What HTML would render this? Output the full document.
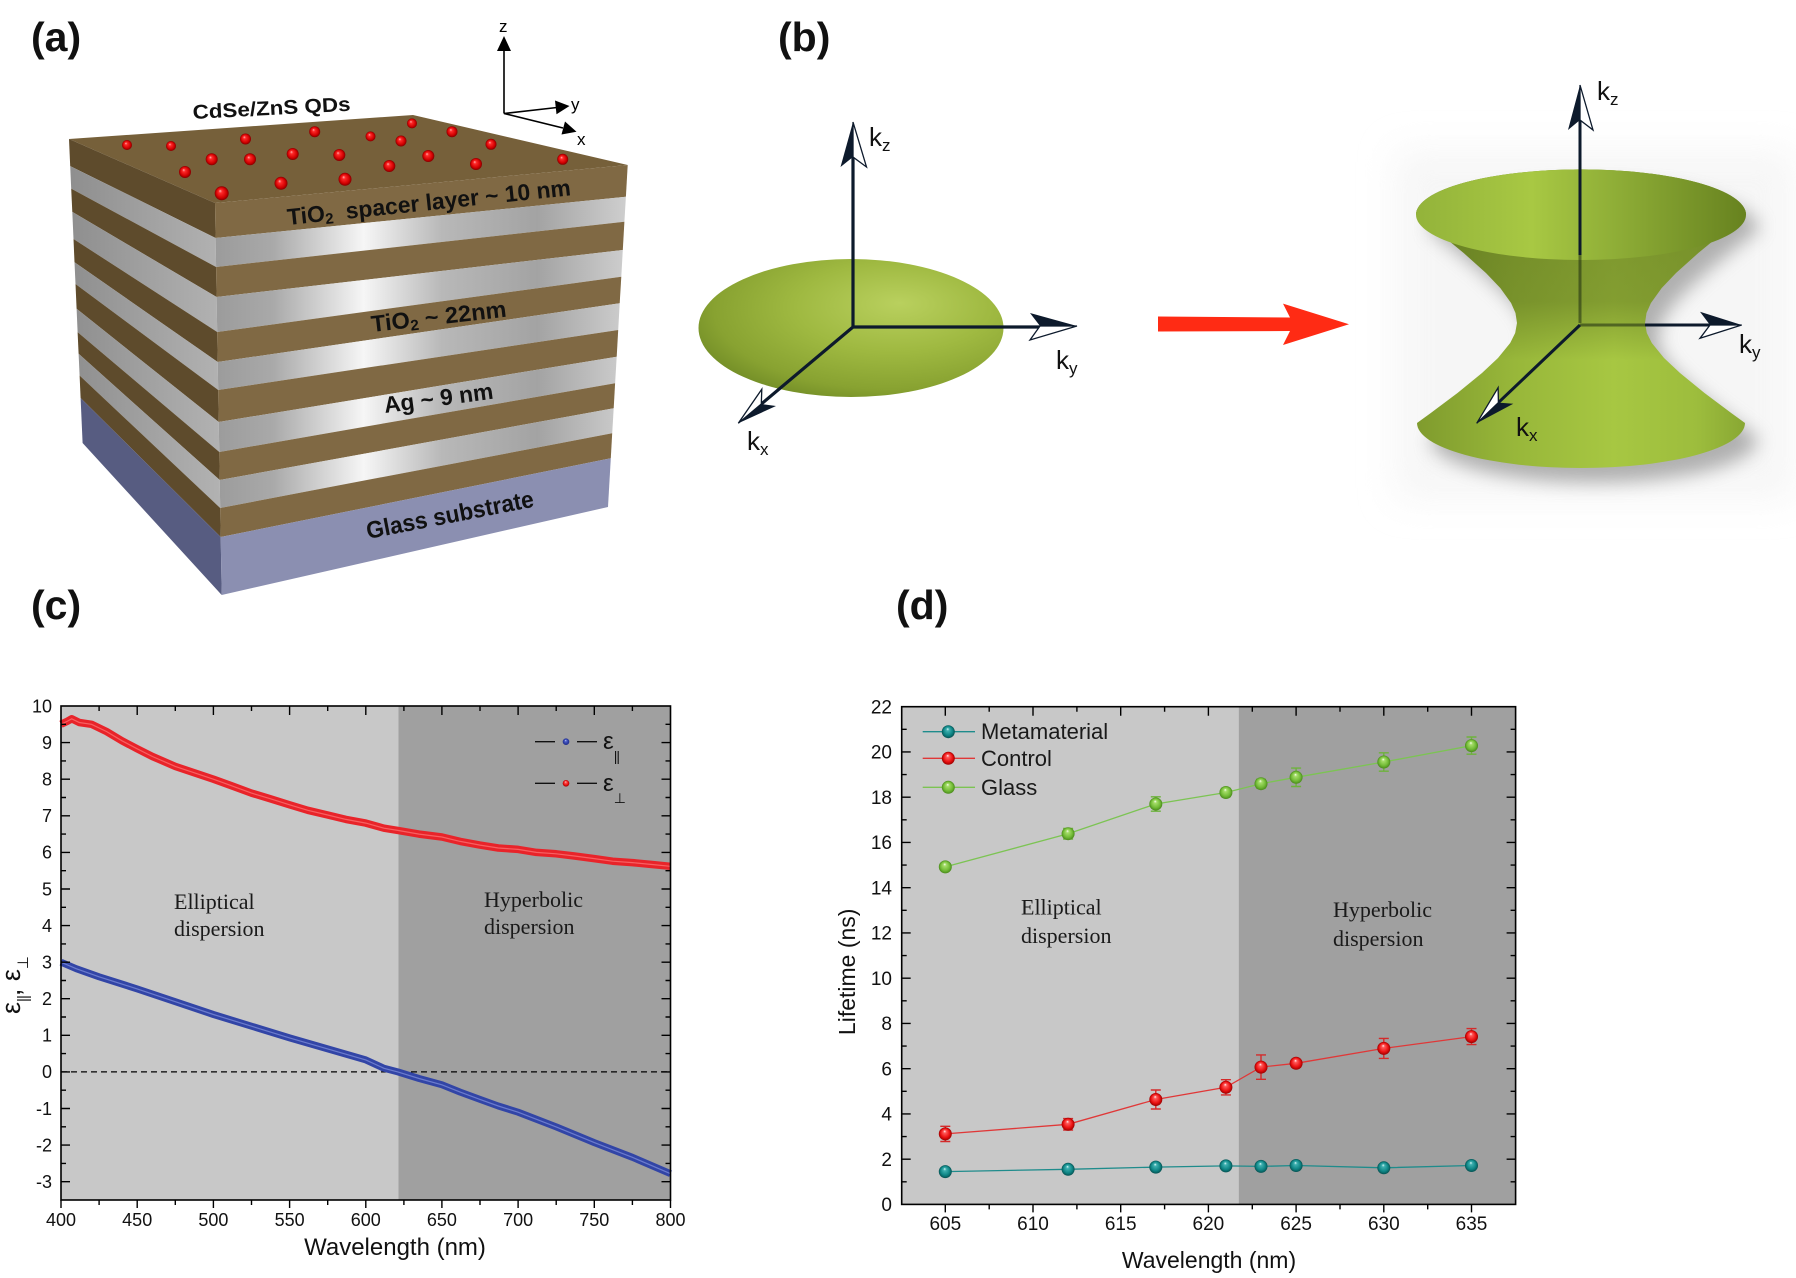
<!DOCTYPE html>
<html><head><meta charset="utf-8"><style>
html,body{margin:0;padding:0;background:#fff;}
body{width:1796px;height:1278px;overflow:hidden;}
svg{display:block;}
text{font-family:"Liberation Sans",Arial,sans-serif;}
.serif{font-family:"Liberation Serif","Times New Roman",serif;}
</style></head><body>
<svg width="1796" height="1278" viewBox="0 0 1796 1278" xmlns="http://www.w3.org/2000/svg">
<defs>
<linearGradient id="silver" gradientUnits="userSpaceOnUse" x1="215" y1="0" x2="628" y2="0">
<stop offset="0" stop-color="#9b9b9b"/><stop offset="0.14" stop-color="#a9a9a9"/><stop offset="0.36" stop-color="#f6f6f6"/><stop offset="0.55" stop-color="#b8b8b8"/><stop offset="0.78" stop-color="#a3a3a3"/><stop offset="1" stop-color="#cfcfcf"/>
</linearGradient>
<linearGradient id="silverSide" gradientUnits="userSpaceOnUse" x1="69" y1="0" x2="220" y2="0">
<stop offset="0" stop-color="#8e8e8e"/><stop offset="1" stop-color="#b2b2b2"/>
</linearGradient>
<radialGradient id="dot" cx="0.5" cy="0.5" r="0.5" fx="0.38" fy="0.32">
<stop offset="0" stop-color="#ffb8b8"/><stop offset="0.25" stop-color="#ff2a2a"/><stop offset="0.75" stop-color="#d00000"/><stop offset="1" stop-color="#800000"/>
</radialGradient>
<radialGradient id="ell" cx="0.62" cy="0.38" r="0.72" fx="0.66" fy="0.32">
<stop offset="0" stop-color="#b9d05e"/><stop offset="0.45" stop-color="#9fb941"/><stop offset="0.8" stop-color="#88a231"/><stop offset="1" stop-color="#6d8824"/>
</radialGradient>
<linearGradient id="hypBody" gradientUnits="userSpaceOnUse" x1="1416" y1="0" x2="1746" y2="0">
<stop offset="0" stop-color="#7f9b2d"/><stop offset="0.3" stop-color="#98b73a"/><stop offset="0.6" stop-color="#a7c742"/><stop offset="0.85" stop-color="#9dbd3d"/><stop offset="1" stop-color="#88a733"/>
</linearGradient>
<linearGradient id="hypDark" gradientUnits="userSpaceOnUse" x1="0" y1="214" x2="0" y2="360">
<stop offset="0" stop-color="#2f3d08" stop-opacity="0.35"/><stop offset="0.6" stop-color="#2f3d08" stop-opacity="0.3"/><stop offset="1" stop-color="#2f3d08" stop-opacity="0"/>
</linearGradient>
<linearGradient id="bowl" gradientUnits="userSpaceOnUse" x1="1416" y1="0" x2="1746" y2="0">
<stop offset="0" stop-color="#93b33a"/><stop offset="0.35" stop-color="#a8c843"/><stop offset="0.6" stop-color="#8fae37"/><stop offset="1" stop-color="#67821f"/>
</linearGradient>
<clipPath id="hypClip"><path id="hypPathC" d="M1416,214.7 L1439.4,233 L1463.7,253 L1486,273 L1500.3,288 L1511.1,303 L1515.5,313 L1517,323 L1515.2,333 L1510.2,343 L1498,358 L1482,373 L1457.5,393 L1430.8,413 L1417,423 A164,45 0 0 0 1745,423 L1731.2,413 L1704.5,393 L1680,373 L1664,358 L1651.8,343 L1646.8,333 L1645,323 L1646.5,313 L1650.9,303 L1661.7,288 L1676,273 L1698.3,253 L1722.6,233 L1746,214.7 A165,45.3 0 0 0 1416,214.7 Z"/></clipPath>
<filter id="blur8" x="-30%" y="-30%" width="160%" height="160%"><feGaussianBlur stdDeviation="9"/></filter>
<filter id="blur20" x="-30%" y="-30%" width="160%" height="160%"><feGaussianBlur stdDeviation="18"/></filter>
<radialGradient id="mT" cx="0.5" cy="0.5" r="0.5" fx="0.45" fy="0.28"><stop offset="0" stop-color="#e8ffff"/><stop offset="0.22" stop-color="#3fb0b0"/><stop offset="0.7" stop-color="#0e8585"/><stop offset="1" stop-color="#075252"/></radialGradient>
<radialGradient id="mR" cx="0.5" cy="0.5" r="0.5" fx="0.45" fy="0.28"><stop offset="0" stop-color="#ffffff"/><stop offset="0.22" stop-color="#ff5a5a"/><stop offset="0.7" stop-color="#ea1010"/><stop offset="1" stop-color="#9a0000"/></radialGradient>
<radialGradient id="mG" cx="0.5" cy="0.5" r="0.5" fx="0.45" fy="0.28"><stop offset="0" stop-color="#ffffff"/><stop offset="0.22" stop-color="#a6dd6a"/><stop offset="0.7" stop-color="#72bb36"/><stop offset="1" stop-color="#4a8a1c"/></radialGradient>
<radialGradient id="mB" cx="0.5" cy="0.5" r="0.5" fx="0.45" fy="0.3"><stop offset="0" stop-color="#dde4ff"/><stop offset="0.3" stop-color="#4a5cc8"/><stop offset="1" stop-color="#1c2a88"/></radialGradient>
</defs>

<!-- ================= (a) ================= -->
<text x="31" y="51" font-size="41" font-weight="bold" fill="#111">(a)</text>

<!-- top face -->
<polygon points="69,139 413,115 627.7,165 215,203" fill="#76603a"/>
<!-- side face bands -->
<g>
<polygon points="69,139 215,203 215.6,238 70.2,166.1" fill="#5e4b2c"/>
<polygon points="70.2,166.1 215.6,238 216.1,267 71.2,188.6" fill="url(#silverSide)"/>
<polygon points="71.2,188.6 216.1,267 216.6,297 72.3,211.9" fill="#5e4b2c"/>
<polygon points="72.3,211.9 216.6,297 217.2,332 73.5,239" fill="url(#silverSide)"/>
<polygon points="73.5,239 217.2,332 217.7,362 74.5,262.3" fill="#5e4b2c"/>
<polygon points="74.5,262.3 217.7,362 218.2,390 75.5,284" fill="url(#silverSide)"/>
<polygon points="75.5,284 218.2,390 218.7,422 76.6,308.8" fill="#5e4b2c"/>
<polygon points="76.6,308.8 218.7,422 219.3,452 77.6,332.1" fill="url(#silverSide)"/>
<polygon points="77.6,332.1 219.3,452 219.7,480 78.6,353.8" fill="#5e4b2c"/>
<polygon points="78.6,353.8 219.7,480 220.2,508 79.6,375.5" fill="url(#silverSide)"/>
<polygon points="79.6,375.5 220.2,508 220.7,537 80.6,398" fill="#5e4b2c"/>
<polygon points="80.6,398 220.7,537 221.7,595 82.6,443" fill="#575c81"/>
</g>
<!-- front face bands -->
<g>
<polygon points="215,203 627.7,165 625.9,196.7 215.6,238" fill="#806944"/>
<polygon points="215.6,238 625.9,196.7 624.4,221.7 216.1,267" fill="url(#silver)"/>
<polygon points="216.1,267 624.4,221.7 622.8,250 216.6,297" fill="#806944"/>
<polygon points="216.6,297 622.8,250 621.3,276.7 217.2,332" fill="url(#silver)"/>
<polygon points="217.2,332 621.3,276.7 619.7,303.3 217.7,362" fill="#806944"/>
<polygon points="217.7,362 619.7,303.3 618.2,330 218.2,390" fill="url(#silver)"/>
<polygon points="218.2,390 618.2,330 616.7,356.7 218.7,422" fill="#806944"/>
<polygon points="218.7,422 616.7,356.7 615.1,383.3 219.3,452" fill="url(#silver)"/>
<polygon points="219.3,452 615.1,383.3 613.7,408.3 219.7,480" fill="#806944"/>
<polygon points="219.7,480 613.7,408.3 612.2,433.3 220.2,508" fill="url(#silver)"/>
<polygon points="220.2,508 612.2,433.3 610.8,458.3 220.7,537" fill="#806944"/>
<polygon points="220.7,537 610.8,458.3 608,507 221.7,595" fill="#8b8fb1"/>
</g>
<!-- dots -->
<g fill="url(#dot)">
<circle cx="127" cy="145" r="5"/><circle cx="171" cy="146" r="5"/><circle cx="245.5" cy="139" r="5.5"/>
<circle cx="314.7" cy="131.7" r="5.5"/><circle cx="370.5" cy="136.4" r="5"/><circle cx="412" cy="123.4" r="5"/>
<circle cx="452" cy="131.7" r="5.5"/><circle cx="401" cy="141" r="5.5"/><circle cx="491" cy="144.3" r="5.5"/>
<circle cx="185" cy="172" r="6"/><circle cx="211.7" cy="159.3" r="6"/><circle cx="250" cy="159.3" r="6"/>
<circle cx="292.7" cy="154" r="6"/><circle cx="339.3" cy="155" r="6"/><circle cx="389.3" cy="166" r="6"/>
<circle cx="428.3" cy="156" r="6"/><circle cx="476" cy="164" r="6"/><circle cx="562.7" cy="159.3" r="5.5"/>
<circle cx="221.7" cy="193.3" r="7"/><circle cx="281" cy="183.3" r="6.5"/><circle cx="345" cy="179.3" r="6.5"/>
</g>
<!-- cube texts -->
<g font-weight="bold" fill="#111">
<text transform="translate(193,119) rotate(-3)" font-size="20" textLength="158" lengthAdjust="spacingAndGlyphs">CdSe/ZnS QDs</text>
<text transform="translate(288,225) rotate(-6)" font-size="23" textLength="285" lengthAdjust="spacingAndGlyphs">TiO<tspan font-size="15" dy="3">2</tspan><tspan dy="-3">&#160; spacer layer ~ 10 nm</tspan></text>
<text transform="translate(372,332) rotate(-6.5)" font-size="23" textLength="136" lengthAdjust="spacingAndGlyphs">TiO<tspan font-size="15" dy="3">2</tspan><tspan dy="-3"> ~ 22nm</tspan></text>
<text transform="translate(385,413) rotate(-7.5)" font-size="23" textLength="110" lengthAdjust="spacingAndGlyphs">Ag ~ 9 nm</text>
<text transform="translate(368,539) rotate(-11)" font-size="24" textLength="170" lengthAdjust="spacingAndGlyphs">Glass substrate</text>
</g>
<!-- xyz axes -->
<g stroke="#000" stroke-width="1.6" fill="none">
<path d="M504,113.5V49M504,113.5L557,107.5M504,113.5L563,128"/>
</g>
<g fill="#000">
<polygon points="504,36 497,51 511,51"/>
<polygon points="569.5,106 555,100.5 556.5,114.2"/>
<polygon points="576.5,131.7 561.5,134.5 565,121.5"/>
</g>
<g font-size="17" fill="#000">
<text x="499" y="32">z</text><text x="571" y="110">y</text><text x="577" y="145">x</text>
</g>

<!-- ================= (b) ================= -->
<text x="778" y="51" font-size="41" font-weight="bold" fill="#111">(b)</text>

<!-- ellipsoid -->
<ellipse cx="851" cy="328" rx="152.5" ry="69" fill="url(#ell)"/>
<path d="M853,327V157M853,327H1040M853,327L761.3,404" stroke="#0d1a2c" stroke-width="3.2" fill="none"/>
<polygon points="853,122 840.5,167 853,157" fill="#0d1a2c"/>
<polygon points="853,122 866.5,167 853,157" fill="#fff" stroke="#0d1a2c" stroke-width="1.3"/>
<polygon points="1077,326 1030,313 1040,326" fill="#0d1a2c"/>
<polygon points="1077,326 1030,340 1040,326" fill="#fff" stroke="#0d1a2c" stroke-width="1.3"/>
<polygon points="738.3,423.3 776,406 761.3,404" fill="#0d1a2c"/>
<polygon points="738.3,423.3 761.8,389.2 761.3,404" fill="#fff" stroke="#0d1a2c" stroke-width="1.3"/>
<g font-size="26" fill="#111">
<text x="869" y="146">k<tspan font-size="17" dy="5">z</tspan></text>
<text x="1056" y="369">k<tspan font-size="17" dy="5">y</tspan></text>
<text x="747" y="450">k<tspan font-size="17" dy="5">x</tspan></text>
</g>

<!-- red arrow -->
<polygon points="1158,316.5 1290,317.5 1283,303.6 1349,324.3 1283,345 1290,331 1158,331.5" fill="#ff2b14"/>

<!-- hyperboloid -->
<rect x="1395" y="150" width="400" height="350" fill="#f3f3f3" opacity="0.7" filter="url(#blur20)"/>
<path d="M1416,214.7 L1439.4,233 L1463.7,253 L1486,273 L1500.3,288 L1511.1,303 L1515.5,313 L1517,323 L1515.2,333 L1510.2,343 L1498,358 L1482,373 L1457.5,393 L1430.8,413 L1417,423 A164,45 0 0 0 1745,423 L1731.2,413 L1704.5,393 L1680,373 L1664,358 L1651.8,343 L1646.8,333 L1645,323 L1646.5,313 L1650.9,303 L1661.7,288 L1676,273 L1698.3,253 L1722.6,233 L1746,214.7 A165,45.3 0 0 0 1416,214.7 Z" transform="translate(13,15)" fill="#8a8a8a" opacity="0.65" filter="url(#blur8)"/>
<g clip-path="url(#hypClip)">
<rect x="1410" y="160" width="345" height="320" fill="url(#hypBody)"/>
<rect x="1410" y="160" width="345" height="200" fill="url(#hypDark)"/>
</g>
<ellipse cx="1581" cy="214.7" rx="165" ry="45.3" fill="url(#bowl)"/>
<path d="M1580,323V255M1580,325H1645" stroke="#1b2a10" stroke-width="3" opacity="0.55" fill="none"/>
<path d="M1580,255V119M1645,325H1710M1580,325L1498.4,402.6" stroke="#0d1a2c" stroke-width="3" fill="none"/>
<polygon points="1580,85 1568,130 1580,120" fill="#0d1a2c"/>
<polygon points="1580,85 1593,130 1580,120" fill="#fff" stroke="#0d1a2c" stroke-width="1.3"/>
<polygon points="1741.7,325 1700,311.7 1710,325" fill="#0d1a2c"/>
<polygon points="1741.7,325 1700,338.3 1710,325" fill="#fff" stroke="#0d1a2c" stroke-width="1.3"/>
<polygon points="1476.7,423.3 1513.3,403.7 1498.4,402.6" fill="#0d1a2c"/>
<polygon points="1476.7,423.3 1498.1,387.7 1498.4,402.6" fill="#fff" stroke="#0d1a2c" stroke-width="1.3"/>
<g font-size="26" fill="#111">
<text x="1597" y="100">k<tspan font-size="17" dy="5">z</tspan></text>
<text x="1739" y="353">k<tspan font-size="17" dy="5">y</tspan></text>
<text x="1516" y="436">k<tspan font-size="17" dy="5">x</tspan></text>
</g>

<!-- ================= (c) ================= -->
<text x="31" y="619" font-size="41" font-weight="bold" fill="#111">(c)</text>
<rect x="61" y="706" width="337.5" height="494" fill="#c8c8c8"/>
<rect x="398.5" y="706" width="272" height="494" fill="#a0a0a0"/>
<path d="M61,1071.9H670.5" stroke="#000" stroke-width="1.3" stroke-dasharray="6,4" fill="none"/>
<text class="serif" font-size="22" fill="#1a1a1a"><tspan x="174" y="909">Elliptical</tspan><tspan x="174" y="936">dispersion</tspan></text>
<text class="serif" font-size="22" fill="#1a1a1a"><tspan x="484" y="907">Hyperbolic</tspan><tspan x="484" y="934">dispersion</tspan></text>
<!-- red curve -->
<polyline fill="none" stroke="#e8242a" stroke-width="7.5" stroke-linejoin="round" points="61,724.3 67.1,721.4 71.7,718.8 79.3,722.5 91.5,724.3 106.7,731.6 122,740.8 137.2,748.8 152.4,756.5 175.3,766.4 193.6,772.6 213.4,779.2 231.7,785.8 251.5,793.1 269.8,798.6 289.6,804.8 307.8,810.3 327.7,815 345.9,819.4 365.8,823.1 384,828.2 397.8,830.4 419.1,834.1 441.9,837 460.2,841.4 480,845.1 498.3,848 518.1,849.4 536.4,852.4 556.2,853.8 574.5,856 594.3,858.6 612.6,861.2 632.4,862.6 650.7,864.4 670.5,866.3"/>
<polyline fill="none" stroke="#ff7a7a" stroke-width="1.2" opacity="0.7" points="61,724.3 67.1,721.4 71.7,718.8 79.3,722.5 91.5,724.3 106.7,731.6 122,740.8 137.2,748.8 152.4,756.5 175.3,766.4 193.6,772.6 213.4,779.2 231.7,785.8 251.5,793.1 269.8,798.6 289.6,804.8 307.8,810.3 327.7,815 345.9,819.4 365.8,823.1 384,828.2 397.8,830.4 419.1,834.1 441.9,837 460.2,841.4 480,845.1 498.3,848 518.1,849.4 536.4,852.4 556.2,853.8 574.5,856 594.3,858.6 612.6,861.2 632.4,862.6 650.7,864.4 670.5,866.3"/>
<!-- blue curve -->
<polyline fill="none" stroke="#3245a6" stroke-width="7" stroke-linejoin="round" points="61,962.2 76.2,968.7 99.1,976.8 137.2,988.9 175.3,1001.7 213.4,1014.5 251.5,1026.2 289.6,1037.9 327.7,1048.9 365.8,1059.9 384,1068.3 397.8,1071.9 419.1,1078.5 441.9,1084.8 460.2,1092.1 480,1099.4 498.3,1106 518.1,1112.2 556.2,1126.9 594.3,1142.6 632.4,1157.3 670.5,1173.7"/>
<polyline fill="none" stroke="#8494e0" stroke-width="1.2" opacity="0.7" points="61,962.2 76.2,968.7 99.1,976.8 137.2,988.9 175.3,1001.7 213.4,1014.5 251.5,1026.2 289.6,1037.9 327.7,1048.9 365.8,1059.9 384,1068.3 397.8,1071.9 419.1,1078.5 441.9,1084.8 460.2,1092.1 480,1099.4 498.3,1106 518.1,1112.2 556.2,1126.9 594.3,1142.6 632.4,1157.3 670.5,1173.7"/>
<!-- legend c -->
<path d="M535,741.7h20M577,741.7h20M535,783.3h20M577,783.3h20" stroke="#111" stroke-width="1.3"/>
<circle cx="566" cy="741.7" r="3.3" fill="url(#mB)"/>
<circle cx="566" cy="783.3" r="3.3" fill="url(#mR)"/>
<text x="603" y="749" font-size="24" fill="#111">ε<tspan font-size="14" dy="12" letter-spacing="-1">||</tspan></text>
<text x="603" y="791" font-size="24" fill="#111">ε<tspan font-size="14" dy="12">⊥</tspan></text>
<!-- frame & ticks c -->
<rect x="61" y="706" width="609.5" height="494" fill="none" stroke="#000" stroke-width="1.6"/>
<path stroke="#000" stroke-width="1.4" fill="none" d="M61,742.6h9M61,779.2h9M61,815.8h9M61,852.4h9M61,889h9M61,925.6h9M61,962.2h9M61,998.7h9M61,1035.3h9M61,1071.9h9M61,1108.5h9M61,1145.1h9M61,1181.7h9
M61,724.3h5M61,760.9h5M61,797.5h5M61,834.1h5M61,870.7h5M61,907.3h5M61,943.9h5M61,980.5h5M61,1017h5M61,1053.6h5M61,1090.2h5M61,1126.8h5M61,1163.4h5
M670.5,742.6h-9M670.5,779.2h-9M670.5,815.8h-9M670.5,852.4h-9M670.5,889h-9M670.5,925.6h-9M670.5,962.2h-9M670.5,998.7h-9M670.5,1035.3h-9M670.5,1071.9h-9M670.5,1108.5h-9M670.5,1145.1h-9M670.5,1181.7h-9
M670.5,724.3h-5M670.5,760.9h-5M670.5,797.5h-5M670.5,834.1h-5M670.5,870.7h-5M670.5,907.3h-5M670.5,943.9h-5M670.5,980.5h-5M670.5,1017h-5M670.5,1053.6h-5M670.5,1090.2h-5M670.5,1126.8h-5M670.5,1163.4h-5
M137.2,706v9M213.4,706v9M289.6,706v9M365.8,706v9M441.9,706v9M518.1,706v9M594.3,706v9
M99.1,706v5M175.3,706v5M251.5,706v5M327.7,706v5M403.9,706v5M480,706v5M556.2,706v5M632.4,706v5
M61,1200v8M137.2,1200v8M213.4,1200v8M289.6,1200v8M365.8,1200v8M441.9,1200v8M518.1,1200v8M594.3,1200v8M670.5,1200v8
M99.1,1200v5M175.3,1200v5M251.5,1200v5M327.7,1200v5M403.9,1200v5M480,1200v5M556.2,1200v5M632.4,1200v5"/>
<g font-size="18" fill="#111" text-anchor="end">
<text x="52" y="712.3">10</text><text x="52" y="748.9">9</text><text x="52" y="785.5">8</text><text x="52" y="822.1">7</text>
<text x="52" y="858.7">6</text><text x="52" y="895.3">5</text><text x="52" y="931.9">4</text><text x="52" y="968.5">3</text>
<text x="52" y="1005">2</text><text x="52" y="1041.6">1</text><text x="52" y="1078.2">0</text><text x="52" y="1114.8">-1</text>
<text x="52" y="1151.4">-2</text><text x="52" y="1188">-3</text>
</g>
<g font-size="18" fill="#111" text-anchor="middle">
<text x="61" y="1226">400</text><text x="137.2" y="1226">450</text><text x="213.4" y="1226">500</text><text x="289.6" y="1226">550</text>
<text x="365.8" y="1226">600</text><text x="441.9" y="1226">650</text><text x="518.1" y="1226">700</text><text x="594.3" y="1226">750</text>
<text x="670.5" y="1226">800</text>
</g>
<text x="395" y="1255" font-size="24" fill="#111" text-anchor="middle">Wavelength (nm)</text>
<text transform="translate(20,985) rotate(-90)" font-size="27" fill="#111" text-anchor="middle">ε<tspan font-size="15" dy="8" letter-spacing="-1">||</tspan><tspan dy="-8">, ε</tspan><tspan font-size="15" dy="8">⊥</tspan></text>

<!-- ================= (d) ================= -->
<text x="896" y="619" font-size="41" font-weight="bold" fill="#111">(d)</text>
<rect x="901.7" y="706.7" width="337" height="497.7" fill="#c8c8c8"/>
<rect x="1238.7" y="706.7" width="276.9" height="497.7" fill="#a0a0a0"/>
<text class="serif" font-size="22" fill="#1a1a1a"><tspan x="1021" y="914.5">Elliptical</tspan><tspan x="1021" y="943">dispersion</tspan></text>
<text class="serif" font-size="22" fill="#1a1a1a"><tspan x="1333" y="917">Hyperbolic</tspan><tspan x="1333" y="946">dispersion</tspan></text>
<!-- series lines -->
<polyline fill="none" stroke="#1f8c8c" stroke-width="1.3" points="945.3,1171.6 1068.1,1169.3 1155.8,1167.1 1225.9,1165.9 1261,1166.4 1296.1,1165.5 1383.8,1167.8 1471.5,1165.5"/>
<polyline fill="none" stroke="#e03838" stroke-width="1.3" points="945.3,1133.9 1068.1,1124.3 1155.8,1099.5 1225.9,1087.3 1261,1067.1 1296.1,1063.3 1383.8,1048.4 1471.5,1036.6"/>
<polyline fill="none" stroke="#7cc453" stroke-width="1.3" points="945.3,866.9 1068.1,833.7 1155.8,804 1225.9,792.5 1261,783.7 1296.1,777.3 1383.8,762 1471.5,745.6"/>
<!-- error bars -->
<path fill="none" stroke="#d42a2a" stroke-width="1.4" d="M945.3,1126.3V1141.5M940.3,1126.3h10M940.3,1141.5h10M1068.1,1118.6V1130M1063.1,1118.6h10M1063.1,1130h10M1155.8,1090V1109M1150.8,1090h10M1150.8,1109h10M1225.9,1079.7V1094.9M1220.9,1079.7h10M1220.9,1094.9h10M1261,1054.9V1079.3M1256,1054.9h10M1256,1079.3h10M1296.1,1059.5V1067.1M1291.1,1059.5h10M1291.1,1067.1h10M1383.8,1038.4V1058.4M1378.8,1038.4h10M1378.8,1058.4h10M1471.5,1028.6V1044.6M1466.5,1028.6h10M1466.5,1044.6h10"/>
<path fill="none" stroke="#6db23c" stroke-width="1.4" d="M945.3,863.9V869.9M940.3,863.9h10M940.3,869.9h10M1068.1,828.4V839M1063.1,828.4h10M1063.1,839h10M1155.8,796.8V811.2M1150.8,796.8h10M1150.8,811.2h10M1225.9,788.5V796.5M1220.9,788.5h10M1220.9,796.5h10M1261,779.3V788.1M1256,779.3h10M1256,788.1h10M1296.1,768.1V786.5M1291.1,768.1h10M1291.1,786.5h10M1383.8,752.8V771.2M1378.8,752.8h10M1378.8,771.2h10M1471.5,737V754.2M1466.5,737h10M1466.5,754.2h10"/>
<!-- markers -->
<g fill="url(#mT)">
<circle cx="945.3" cy="1171.6" r="6.5"/><circle cx="1068.1" cy="1169.3" r="6.5"/><circle cx="1155.8" cy="1167.1" r="6.5"/><circle cx="1225.9" cy="1165.9" r="6.5"/>
<circle cx="1261" cy="1166.4" r="6.5"/><circle cx="1296.1" cy="1165.5" r="6.5"/><circle cx="1383.8" cy="1167.8" r="6.5"/><circle cx="1471.5" cy="1165.5" r="6.5"/>
</g>
<g fill="url(#mR)">
<circle cx="945.3" cy="1133.9" r="6.5"/><circle cx="1068.1" cy="1124.3" r="6.5"/><circle cx="1155.8" cy="1099.5" r="6.5"/><circle cx="1225.9" cy="1087.3" r="6.5"/>
<circle cx="1261" cy="1067.1" r="6.5"/><circle cx="1296.1" cy="1063.3" r="6.5"/><circle cx="1383.8" cy="1048.4" r="6.5"/><circle cx="1471.5" cy="1036.6" r="6.5"/>
</g>
<g fill="url(#mG)">
<circle cx="945.3" cy="866.9" r="6.5"/><circle cx="1068.1" cy="833.7" r="6.5"/><circle cx="1155.8" cy="804" r="6.5"/><circle cx="1225.9" cy="792.5" r="6.5"/>
<circle cx="1261" cy="783.7" r="6.5"/><circle cx="1296.1" cy="777.3" r="6.5"/><circle cx="1383.8" cy="762" r="6.5"/><circle cx="1471.5" cy="745.6" r="6.5"/>
</g>
<!-- legend d -->
<path d="M922.7,731.7H975" stroke="#1f8c8c" stroke-width="1.3"/>
<path d="M922.7,758.3H975" stroke="#e03838" stroke-width="1.3"/>
<path d="M922.7,787.3H975" stroke="#7cc453" stroke-width="1.3"/>
<circle cx="948.3" cy="731.7" r="6.5" fill="url(#mT)"/>
<circle cx="948.3" cy="758.3" r="6.5" fill="url(#mR)"/>
<circle cx="948.3" cy="787.3" r="6.5" fill="url(#mG)"/>
<g class="serif" font-size="22" fill="#1a1a1a">
<text x="981" y="739">Metamaterial</text><text x="981" y="766">Control</text><text x="981" y="795">Glass</text>
</g>
<!-- frame & ticks d -->
<rect x="901.7" y="706.7" width="613.9" height="497.7" fill="none" stroke="#000" stroke-width="1.6"/>
<path stroke="#000" stroke-width="1.4" fill="none" d="M901.7,1159.2h9M901.7,1113.9h9M901.7,1068.7h9M901.7,1023.4h9M901.7,978.2h9M901.7,932.9h9M901.7,887.7h9M901.7,842.4h9M901.7,797.2h9M901.7,751.9h9
M901.7,1181.8h5M901.7,1136.6h5M901.7,1091.3h5M901.7,1046.1h5M901.7,1000.8h5M901.7,955.6h5M901.7,910.3h5M901.7,865.1h5M901.7,819.8h5M901.7,774.6h5M901.7,729.3h5
M1515.6,1159.2h-9M1515.6,1113.9h-9M1515.6,1068.7h-9M1515.6,1023.4h-9M1515.6,978.2h-9M1515.6,932.9h-9M1515.6,887.7h-9M1515.6,842.4h-9M1515.6,797.2h-9M1515.6,751.9h-9
M1515.6,1181.8h-5M1515.6,1136.6h-5M1515.6,1091.3h-5M1515.6,1046.1h-5M1515.6,1000.8h-5M1515.6,955.6h-5M1515.6,910.3h-5M1515.6,865.1h-5M1515.6,819.8h-5M1515.6,774.6h-5M1515.6,729.3h-5
M945.3,706.7v9M1033,706.7v9M1120.7,706.7v9M1208.4,706.7v9M1296.1,706.7v9M1383.8,706.7v9M1471.5,706.7v9
M989.2,706.7v5M1076.9,706.7v5M1164.6,706.7v5M1252.3,706.7v5M1340,706.7v5M1427.7,706.7v5
M945.3,1204.4v8M1033,1204.4v8M1120.7,1204.4v8M1208.4,1204.4v8M1296.1,1204.4v8M1383.8,1204.4v8M1471.5,1204.4v8
M989.2,1204.4v5M1076.9,1204.4v5M1164.6,1204.4v5M1252.3,1204.4v5M1340,1204.4v5M1427.7,1204.4v5"/>
<g font-size="19" fill="#111" text-anchor="end">
<text x="892" y="1211.2">0</text><text x="892" y="1166">2</text><text x="892" y="1120.7">4</text><text x="892" y="1075.5">6</text>
<text x="892" y="1030.2">8</text><text x="892" y="985">10</text><text x="892" y="939.7">12</text><text x="892" y="894.5">14</text>
<text x="892" y="849.2">16</text><text x="892" y="804">18</text><text x="892" y="758.7">20</text><text x="892" y="713.5">22</text>
</g>
<g font-size="19" fill="#111" text-anchor="middle">
<text x="945.3" y="1230">605</text><text x="1033" y="1230">610</text><text x="1120.7" y="1230">615</text><text x="1208.4" y="1230">620</text>
<text x="1296.1" y="1230">625</text><text x="1383.8" y="1230">630</text><text x="1471.5" y="1230">635</text>
</g>
<text x="1209" y="1268" font-size="23" fill="#111" text-anchor="middle">Wavelength (nm)</text>
<text transform="translate(855,971.8) rotate(-90)" font-size="23" fill="#111" text-anchor="middle">Lifetime (ns)</text>
</svg>
</body></html>
